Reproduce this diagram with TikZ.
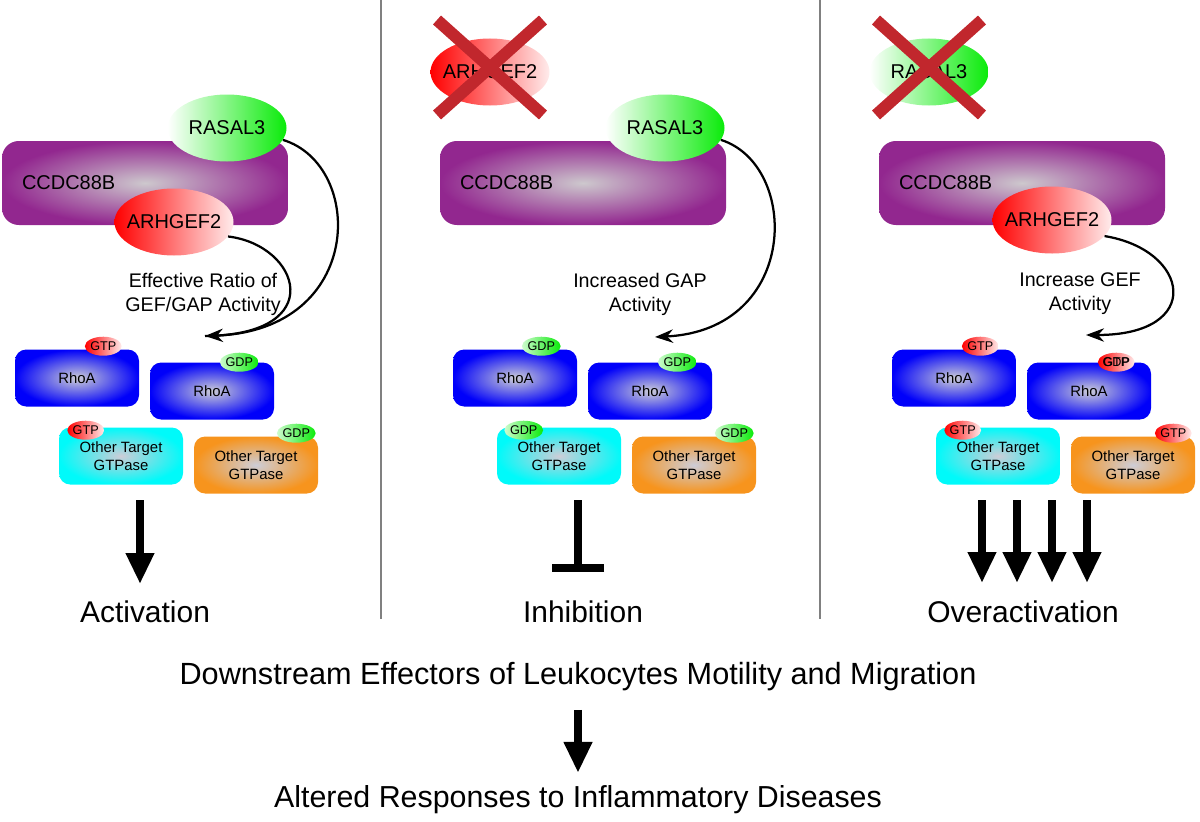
\documentclass[tikz,border=0pt]{standalone}
\usepackage{fontspec}
\setmainfont{Liberation Sans}
\usetikzlibrary{shapes.geometric}
\usetikzlibrary{arrows.meta}
\newlength\pxl
\setlength\pxl{0.025cm}
\definecolor{ccpurple}{RGB}{146,39,143}
\definecolor{ccgray}{RGB}{205,200,205}
\definecolor{rasgreen}{RGB}{10,235,10}
\definecolor{arhred}{RGB}{255,0,0}
\definecolor{arhpale}{RGB}{255,236,236}
\definecolor{rhoblue}{RGB}{0,0,250}
\definecolor{boxcore}{RGB}{205,205,215}
\definecolor{gtcyan}{RGB}{0,250,250}
\definecolor{gtorange}{RGB}{247,148,29}
\definecolor{xred}{RGB}{193,39,45}

\begin{document}
\begin{tikzpicture}[x=0.025cm,y=-0.025cm,
	prot/.style={ellipse,minimum width=119\pxl,minimum height=67\pxl,inner sep=0pt,font=\fontsize{14.2}{17}\selectfont},
	rasal/.style={prot,left color=white,right color=rasgreen},
	arh/.style={prot,inner xsep=-6\pxl,left color=arhred,right color=arhpale},
	scaffold/.style={rectangle,rounded corners=12pt,minimum width=286\pxl,minimum height=84\pxl,text width=246\pxl,inner xsep=20\pxl,align=left,inner color=ccgray,outer color=ccpurple,font=\fontsize{14.2}{17}\selectfont},
	gbox/.style={rectangle,rounded corners=8pt,minimum width=124\pxl,minimum height=57\pxl,inner color=boxcore,align=center,font=\fontsize{10.6}{12.8}\selectfont},
	badge/.style={ellipse,minimum width=33\pxl,minimum height=19\pxl,inner sep=0pt,font=\fontsize{9}{10}\selectfont},
	GTP/.style={badge,left color=arhred,right color=arhpale},
	GDP/.style={badge,left color=rasgreen!20!white,right color=rasgreen},
	note/.style={align=center,font=\fontsize{14}{17}\selectfont},
	outcome/.style={inner sep=0pt,font=\fontsize{21.3}{25}\selectfont},
	reg/.style={line width=1.6pt,-{Stealth[length=12.8pt,width=9.5pt]}},
	bigarr/.style={line width=5.7pt,-{Triangle[length=22pt,width=19pt]}},
	blocker/.style={line width=5.7pt,-{Bar[width=37pt]}},
	xout/.style={line width=8.5pt,draw=xred},
	divider/.style={line width=1pt,draw=gray}]
	\useasboundingbox (0,0) rectangle (1200,821);
	\draw[divider] (381,0) -- (381,619);
	\draw[divider] (820,0) -- (820,619);

	\node[scaffold] (ccL) at (145,183) {CCDC88B};
	\node[scaffold] (ccM) at (583,183) {CCDC88B};
	\node[scaffold] (ccR) at (1022,183) {CCDC88B};
	\node[rasal] (rasL) at (227,128) {RASAL3};
	\node[arh] (arhL) at (174,222) {ARHGEF2};
	\node[arh] (arhM) at (490,72) {ARHGEF2};
	\node[rasal] (rasM) at (665,128) {RASAL3};
	\node[rasal] (rasR) at (929,72) {RASAL3};
	\node[arh] (arhR) at (1052,220) {ARHGEF2};
	\foreach \c in {arhM,rasR}{
		\draw[xout] ([shift={(-53,-52)}]\c.center) -- ([shift={(53,43)}]\c.center);
		\draw[xout] ([shift={(53,-52)}]\c.center) -- ([shift={(-53,43)}]\c.center);
	}

	\coordinate (tipL) at (205,336);
	\coordinate (tipM) at (655,337);
	\coordinate (tipR) at (1086,335);
	\draw[line width=1.6pt] (arhL.-15) .. controls (300,245) and (330,335) .. (tipL);
	\draw[reg] (rasL.-12) .. controls (365,165) and (365,330) .. (tipL);
	\draw[reg] (rasM.-12) .. controls (800,165) and (800,330) .. (tipM);
	\draw[reg] (arhR.-17) .. controls (1190,250) and (1205,335) .. (tipR);
	\node[note] (noteL) at (203,294) {Effective Ratio of\\GEF/GAP Activity};
	\node[note] (noteM) at (640,294) {Increased GAP\\Activity};
	\node[note] (noteR) at (1080,294) {Increase GEF\\Activity};

	\foreach \s/\p in {0/L,438/M,877/R}{
		\node[gbox,outer color=rhoblue] (rhoA\p) at (\s+77,378) {RhoA};
		\node[gbox,outer color=rhoblue] (rhoB\p) at (\s+212,391) {RhoA};
		\node[gbox,outer color=gtcyan] (otherA\p) at (\s+121,456) {Other Target\\GTPase};
		\node[gbox,outer color=gtorange] (otherB\p) at (\s+256,465) {Other Target\\GTPase};
	}
	\foreach \p/\a/\b/\c/\d in {L/GTP/GDP/GTP/GDP,M/GDP/GDP/GDP/GDP,R/GTP/GTP/GTP/GTP}{
		\node[\a] (bA\p) at ([shift={(-36,-3)}]rhoA\p.north east) {\a};
		\node[\b] (bB\p) at ([shift={(-35,0)}]rhoB\p.north east) {\b};
		\node[\c] (bC\p) at ([shift={(27,3)}]otherA\p.north west) {\c};
		\node[\d] (bD\p) at ([shift={(-22,-3)}]otherB\p.north east) {\d};
	}
	\node[font=\fontsize{9}{10}\selectfont] (bBRold) at (bBR) {GDP};

	\coordinate (actS) at (140,500);
	\coordinate (actE) at (140,584);
	\draw[bigarr] (actS) -- (actE);
	\coordinate (inhS) at (578,500);
	\coordinate (inhE) at (578,572);
	\draw[blocker] (inhS) -- (inhE);
	\foreach \x [count=\i] in {982,1017,1052,1087}{
		\coordinate (ovS\i) at (\x,500);
		\coordinate (ovE\i) at (\x,583);
		\draw[bigarr] (ovS\i) -- (ovE\i);
	}
	\node[outcome] (act) at (145,612) {Activation};
	\node[outcome] (inh) at (583,612) {Inhibition};
	\node[outcome] (over) at (1023,612) {Overactivation};
	\node[outcome,font=\fontsize{21.8}{25}\selectfont] (down) at (578,677) {Downstream Effectors of Leukocytes Motility and Migration};
	\node[outcome,font=\fontsize{21.6}{25}\selectfont] (alt) at (578,800) {Altered Responses to Inflammatory Diseases};
	\draw[bigarr,shorten <=13pt,shorten >=9pt] (down) -- (alt);
\end{tikzpicture}
\end{document}
